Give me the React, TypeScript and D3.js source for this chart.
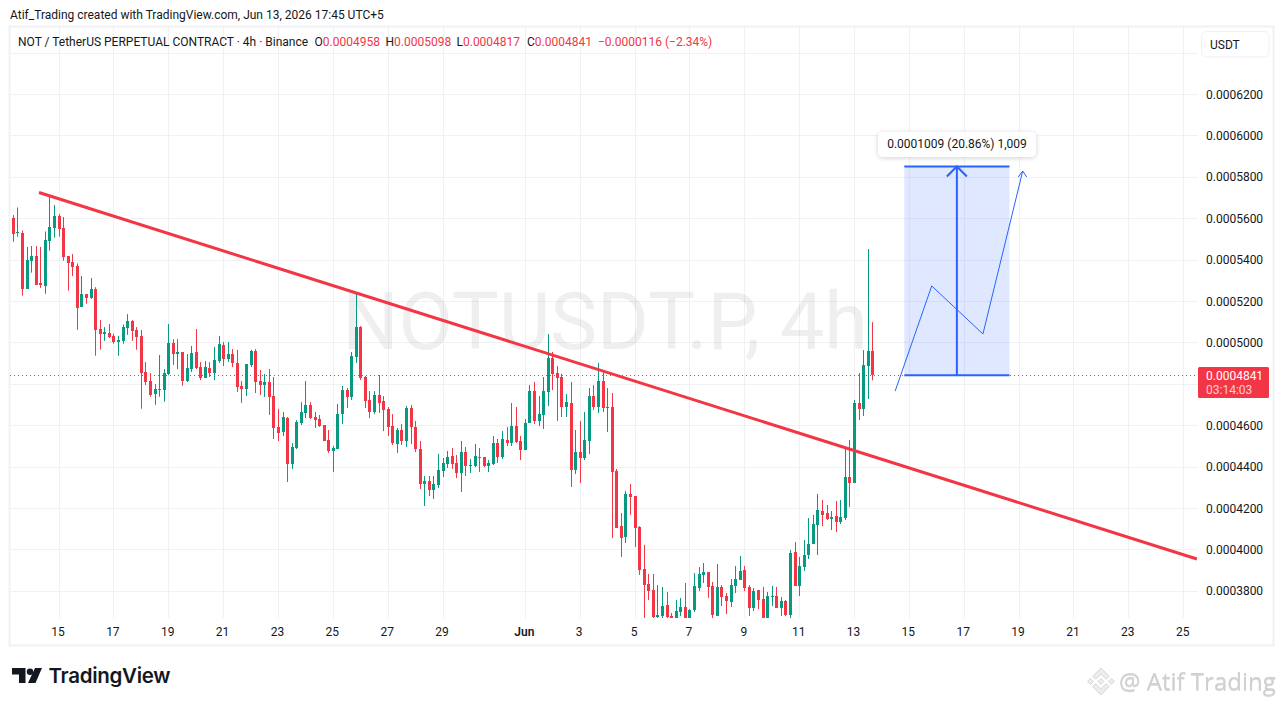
import React from "react";
import * as d3 from "d3";

// Prices are stored in units of 1e-7 USDT
const opens = [
5601,5528,5528,5259,5395,5417,5287,5274,5491,5554,
5610,5552,5417,5388,5369,5172,5234,5216,5258,5065,
5042,5045,5031,5002,5007,5069,5103,5060,5031,4857,
4813,4751,4772,4772,4847,4997,4944,4954,4813,4871,
4954,4881,4828,4876,4852,4910,4988,4920,4944,4901,
4790,4775,4891,4959,4814,4794,4809,4741,4592,4567,
4635,4413,4490,4611,4659,4698,4640,4630,4601,4529,
4476,4485,4654,4770,4736,4930,5075,4833,4722,4664,
4746,4717,4679,4596,4509,4577,4524,4683,4592,4485,
4316,4331,4287,4311,4379,4413,4452,4418,4369,4471,
4403,4403,4447,4447,4403,4413,4514,4447,4529,4514,
4596,4524,4480,4611,4765,4621,4650,4761,4925,4852,
4833,4688,4707,4384,4471,4442,4524,4741,4688,4814,
4685,4688,4379,4113,4060,4268,4258,4109,3906,3833,
3804,3674,3679,3732,3679,3655,3698,3722,3655,3708,
3814,3877,3891,3824,3679,3819,3775,3746,3824,3853,
3901,3819,3717,3804,3761,3655,3770,3775,3717,3751,
3683,3988,3824,3915,3973,4026,4118,4186,4176,4147,
4162,4133,4152,4350,4321,4708,4679,4886,4958];
const highs = [
5615,5652,5541,5461,5466,5466,5461,5536,5712,5664,
5620,5606,5417,5427,5382,5321,5234,5311,5267,5108,
5074,5089,5042,5032,5087,5137,5108,5074,5060,4905,
4852,4799,4939,4871,5089,5016,5016,4954,4944,4983,
5065,4905,4910,4905,4978,5031,5002,5002,4968,4964,
4814,4896,4964,4968,4867,4848,4872,4833,4679,4664,
4640,4514,4625,4712,4814,4712,4664,4650,4601,4577,
4500,4703,4790,4780,4954,5240,5079,4838,4765,4765,
4843,4741,4688,4654,4587,4606,4693,4698,4621,4524,
4355,4355,4355,4461,4442,4476,4490,4456,4524,4495,
4437,4510,4490,4447,4432,4548,4534,4572,4592,4707,
4688,4548,4630,4794,4809,4741,4833,5041,4954,4886,
4848,4751,4809,4577,4621,4664,4780,4794,4901,4857,
4780,4756,4389,4176,4282,4316,4258,4113,4022,3882,
3882,3828,3819,3795,3693,3756,3766,3838,3712,3886,
3915,3935,3891,3843,3930,3828,3790,3857,3920,3968,
3920,3828,3814,3804,3819,3795,3824,3819,3770,3756,
3997,4036,3964,4046,4152,4167,4268,4239,4215,4186,
4234,4239,4493,4529,4722,4852,4963,5451,5098];
const lows = [
5486,5511,5226,5259,5337,5279,5264,5235,5443,5506,
5511,5395,5250,5321,5061,5172,5187,5210,4936,4965,
5008,5021,4994,4936,4994,5037,5008,4965,4680,4794,
4738,4699,4738,4714,4842,4891,4871,4791,4809,4857,
4871,4818,4828,4833,4818,4902,4886,4906,4881,4761,
4708,4741,4881,4756,4746,4736,4650,4534,4524,4548,
4326,4389,4485,4601,4635,4630,4587,4592,4524,4466,
4374,4485,4606,4683,4722,4901,4819,4683,4635,4654,
4659,4572,4548,4505,4466,4505,4495,4509,4471,4292,
4210,4258,4244,4297,4350,4394,4389,4345,4278,4355,
4369,4398,4374,4398,4374,4408,4418,4437,4500,4500,
4514,4432,4480,4611,4606,4596,4582,4693,4770,4621,
4640,4640,4302,4365,4321,4432,4461,4674,4659,4664,
4567,4055,4104,3964,4031,4167,4012,3877,3650,3756,
3650,3650,3650,3650,3640,3640,3679,3640,3640,3698,
3799,3838,3766,3667,3679,3727,3688,3722,3790,3853,
3799,3679,3703,3712,3640,3640,3727,3717,3679,3679,
3667,3824,3775,3896,3954,4026,3973,4113,4142,4094,
4084,4123,4142,4205,4321,4625,4645,4727,4817];
const closes = [
5525,5533,5259,5398,5417,5279,5277,5494,5557,5610,
5549,5412,5385,5364,5168,5234,5216,5258,5061,5042,
5050,5026,5002,5011,5074,5103,5055,5026,4854,4810,
4746,4775,4775,4852,4997,4944,4952,4813,4876,4949,
4876,4828,4881,4852,4915,4992,4920,4944,4901,4785,
4775,4896,4960,4809,4794,4809,4736,4587,4563,4640,
4413,4495,4616,4664,4698,4635,4625,4596,4524,4476,
4490,4654,4770,4736,4934,5075,4828,4717,4664,4746,
4708,4674,4592,4514,4577,4524,4683,4592,4485,4316,
4331,4287,4316,4384,4418,4447,4413,4369,4471,4403,
4408,4452,4443,4403,4418,4514,4447,4534,4514,4596,
4519,4480,4611,4765,4621,4654,4765,4925,4848,4828,
4688,4712,4384,4471,4442,4529,4741,4688,4814,4683,
4688,4374,4104,4055,4268,4254,4104,3901,3828,3799,
3674,3683,3727,3674,3660,3703,3722,3655,3708,3824,
3882,3891,3819,3683,3819,3770,3751,3828,3857,3896,
3814,3717,3799,3756,3655,3775,3775,3717,3751,3683,
3983,3824,3920,3973,4026,4123,4191,4167,4147,4157,
4133,4157,4350,4321,4708,4679,4891,4959,4841];

const dateLabels = ["15","17","19","21","23","25","27","29","Jun","3","5","7","9","11","13","15","17","19","21","23","25"];
const dateIndices = [10,22,34,46,58,70,82,94,112,124,136,148,160,172,184,196,208,220,232,244,256];
const priceTicks = [6200,6000,5800,5600,5400,5200,5000,4600,4400,4200,4000,3800];
const gridPrices = [6400,6200,6000,5800,5600,5400,5200,5000,4800,4600,4400,4200,4000,3800];

const trendIdx = [5.73,259];
const trendPrice = [5724,3954];
const projIdx = [193,201,212.2,220.9];
const projPrice = [4765,5273,5041,5828];
const rangeIdx = [195,218];
const rangePrice = [4841,5850];
const lastPrice = 4841;

const RED = "#f23645";
const GREEN = "#089981";
const BLUE = "#2962ff";
const GRID = "#f0f1f5";
const TEXT = "#131722";
const FONT = "Roboto, sans-serif";

const x = d3.scaleLinear().domain([0, 188]).range([12.8, 872.3]);
const y = d3.scaleLinear().domain([3800, 6200]).range([590.9, 94]);
const fmt = (p: number) => (p / 1e7).toFixed(7);
const line = d3.line<[number, number]>().x(d => x(d[0])).y(d => y(d[1]));

const legend: [string, string][] = [["O","0.0004958"],["H","0.0005098"],["L","0.0004817"],["C","0.0004841"]];
const legendX = [314.5, 385.5, 456.5, 527];

export default function App() {
  const mid = (rangeIdx[0] + rangeIdx[1]) / 2;
  const tipX = x(mid), topY = y(rangePrice[1]), botY = y(rangePrice[0]);
  const p = projIdx.map((d, i) => [d, projPrice[i]] as [number, number]);
  const tx = x(p[3][0]), ty = y(p[3][1]);
  return (
    <svg width={1283} height={706} style={{ position: "fixed", left: 0, top: 0, background: "#fff" }} fontFamily={FONT}>
      <defs>
        <clipPath id="pane"><rect x={10} y={27} width={1188} height={591} /></clipPath>
        <filter id="sh" x="-10%" y="-30%" width="120%" height="170%">
          <feDropShadow dx={0} dy={1} stdDeviation={2.5} floodColor="#000" floodOpacity={0.18} />
        </filter>
      </defs>
      <text x={10} y={19} fontSize={12} fill={TEXT}>Atif_Trading created with TradingView.com, Jun 13, 2026 17:45 UTC+5</text>
      <rect x={9.5} y={26.5} width={1264} height={619} fill="none" stroke="#f0f1f4" strokeWidth={2} />
      <g clipPath="url(#pane)">
        {gridPrices.map(g => <line key={g} x1={10} x2={1198} y1={Math.round(y(g)) + 0.5} y2={Math.round(y(g)) + 0.5} stroke={GRID} />)}
        {dateIndices.map(d => <line key={d} x1={Math.round(x(d)) + 0.5} x2={Math.round(x(d)) + 0.5} y1={27} y2={618} stroke={GRID} />)}
        <text x={605} y={349} fontSize={79} textAnchor="middle" fill="#2a2e39" fillOpacity={0.075}>NOTUSDT.P, 4h</text>
        {opens.map((o, i) => {
          const c = closes[i];
          const col = c >= o ? GREEN : RED;
          const cx = Math.round(x(i));
          const t = Math.round(y(Math.max(o, c)));
          const b = Math.round(y(Math.min(o, c)));
          return (
            <g key={i} fill={col}>
              <rect x={cx} width={1} y={y(highs[i])} height={y(lows[i]) - y(highs[i])} />
              <rect x={cx - 1} width={3} y={t} height={Math.max(1, b - t)} />
            </g>
          );
        })}
        <line x1={10} x2={1198} y1={Math.round(y(lastPrice)) + 0.5} y2={Math.round(y(lastPrice)) + 0.5} stroke={RED} strokeDasharray="1 3" />
        <rect x={x(rangeIdx[0])} width={x(rangeIdx[1]) - x(rangeIdx[0])} y={topY} height={botY - topY} fill={BLUE} fillOpacity={0.15} />
        <line x1={x(rangeIdx[0])} x2={x(rangeIdx[1])} y1={topY} y2={topY} stroke={BLUE} strokeWidth={2} />
        <line x1={x(rangeIdx[0])} x2={x(rangeIdx[1])} y1={botY} y2={botY} stroke={BLUE} strokeWidth={2} />
        <line x1={tipX} x2={tipX} y1={botY} y2={topY} stroke={BLUE} strokeWidth={2} />
        <path d={`M${tipX - 10},${topY + 10}L${tipX},${topY}L${tipX + 10},${topY + 10}`} fill="none" stroke={BLUE} strokeWidth={2} />
        <path d={line(p) || ""} fill="none" stroke={BLUE} strokeWidth={1} />
        <path d={`M${tx - 4.5},${ty + 6}L${tx},${ty}L${tx + 4},${ty + 6}`} fill="none" stroke={BLUE} strokeWidth={1} />
        <path d={line(trendIdx.map((d, i) => [d, trendPrice[i]] as [number, number])) || ""} fill="none" stroke={RED} strokeWidth={3} />
      </g>
      <rect x={878} y={132} width={158} height={25} rx={5} fill="#fff" filter="url(#sh)" />
      <text x={957} y={148} fontSize={12} textAnchor="middle" fill={TEXT}>0.0001009 (20.86%) 1,009</text>
      <text x={18} y={46} fontSize={12} fill={TEXT}>NOT / TetherUS PERPETUAL CONTRACT · 4h · Binance</text>
      {legend.map(([k, v], i) => (
        <text key={k} x={legendX[i]} y={46} fontSize={12} fill={RED}><tspan fill={TEXT}>{k}</tspan>{v}</text>
      ))}
      <text x={598} y={46} fontSize={12} fill={RED}>−0.0000116 (−2.34%)</text>
      <rect x={1201.5} y={31.5} width={67.5} height={25.5} rx={5} fill="#fff" stroke="#f0f1f4" />
      <text x={1210} y={49} fontSize={12} fill={TEXT}>USDT</text>
      {priceTicks.map(t => <text key={t} x={1206} y={y(t) + 4.5} fontSize={12} fill={TEXT}>{fmt(t)}</text>)}
      <rect x={1198} y={367} width={71} height={31} rx={1.5} fill={RED} />
      <text x={1206} y={380} fontSize={12} fill="#fff">{fmt(lastPrice)}</text>
      <text x={1206} y={394} fontSize={12} fill="#fff" fillOpacity={0.75}>03:14:03</text>
      {dateLabels.map((l, i) => (
        <text key={i} x={x(dateIndices[i]) - 0.5} y={636} fontSize={12} textAnchor="middle" fontWeight={l === "Jun" ? 600 : 400} fill={TEXT}>{l}</text>
      ))}
      <g fill="#131722">
        <path d="M12,668H25.5V683H19V674.5H12Z" />
        <circle cx={30} cy={671.7} r={3.2} />
        <path d="M35,668H42L35.5,683H28Z" />
      </g>
      <text x={48.5} y={683} fontSize={20.5} fontWeight={600} fontFamily="Inter, sans-serif" letterSpacing={-0.3} fill="#131722">TradingView</text>
      <g transform="translate(1087.5,668) scale(0.84)" fill="#ececec" stroke="#d2d2d2" strokeWidth={1}>
        <path d="M9.8 13.4L16 7.2L22.2 13.4L25.8 9.8L16 0L6.2 9.8Z" />
        <path d="M0 16L3.6 12.4L7.2 16L3.6 19.6Z" />
        <path d="M16 12.4L19.6 16L16 19.6L12.4 16Z" />
        <path d="M24.8 16L28.4 12.4L32 16L28.4 19.6Z" />
        <path d="M22.2 18.6L16 24.8L9.8 18.6L6.2 22.2L16 32L25.8 22.2Z" />
      </g>
      <text x={1119} y={690} fontSize={24} fontFamily="'Open Sans', sans-serif" fill="#d0d0d0" style={{ filter: "drop-shadow(0 1px 0.5px rgba(0,0,0,0.15))" }}>@ Atif Trading</text>
    </svg>
  );
}
